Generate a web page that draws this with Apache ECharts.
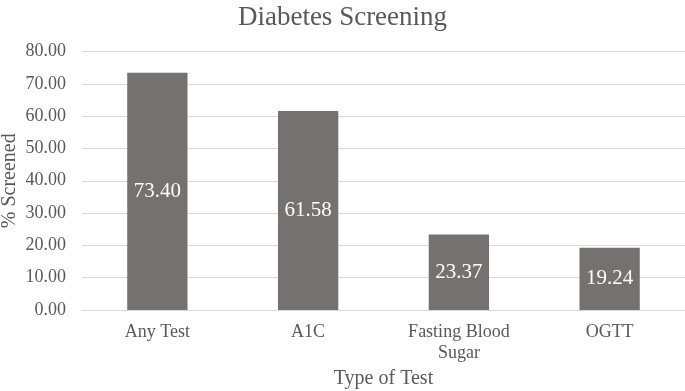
<!DOCTYPE html>
<html><head><meta charset="utf-8">
<script src="https://cdn.jsdelivr.net/npm/echarts@6/dist/echarts.min.js"></script>
<style>html,body{margin:0;padding:0;background:#fff}#c{width:685px;height:391px}</style>
</head><body><div id="c"></div>
<script>
const categories = ["Any Test", "A1C", "Fasting Blood\nSugar", "OGTT"];
const screened = [73.40, 61.58, 23.37, 19.24];
const yTicks = { min: 0, max: 80, interval: 10 };

const font = '"Liberation Serif", "Times New Roman", serif';
const chart = echarts.init(document.getElementById('c'));
chart.setOption({
  animation: false,
  title: { text: 'Diabetes Screening', left: 'center', top: -1,
    textStyle: { fontFamily: font, fontSize: 27, fontWeight: 'normal', color: '#595959' } },
  grid: { left: 82, right: 0, top: 51.5, bottom: 81, outerBoundsMode: 'none', containLabel: false },
  xAxis: { type: 'category', data: categories,
    name: 'Type of Test', nameLocation: 'middle', nameGap: 59, nameMoveOverlap: false,
    nameTextStyle: { fontFamily: font, fontSize: 20, color: '#595959' },
    axisLine: { lineStyle: { color: '#d9d9d9' } }, axisTick: { show: false },
    axisLabel: { fontFamily: font, fontSize: 18, color: '#595959', margin: 12, lineHeight: 21 } },
  yAxis: { type: 'value', min: yTicks.min, max: yTicks.max, interval: yTicks.interval,
    name: '% Screened', nameLocation: 'middle', nameGap: 62, nameRotate: 90, nameMoveOverlap: false,
    nameTextStyle: { fontFamily: font, fontSize: 20, color: '#595959' },
    splitLine: { lineStyle: { color: '#d9d9d9', width: 1 } },
    axisLabel: { fontFamily: font, fontSize: 18, color: '#595959', margin: 16,
      formatter: v => v.toFixed(2) } },
  series: [{ type: 'bar', data: screened, barWidth: '40%',
    itemStyle: { color: '#767171' },
    label: { show: true, position: 'inside', fontFamily: font, fontSize: 21, color: '#ffffff',
      formatter: p => p.value.toFixed(2) } }]
});
</script></body></html>
